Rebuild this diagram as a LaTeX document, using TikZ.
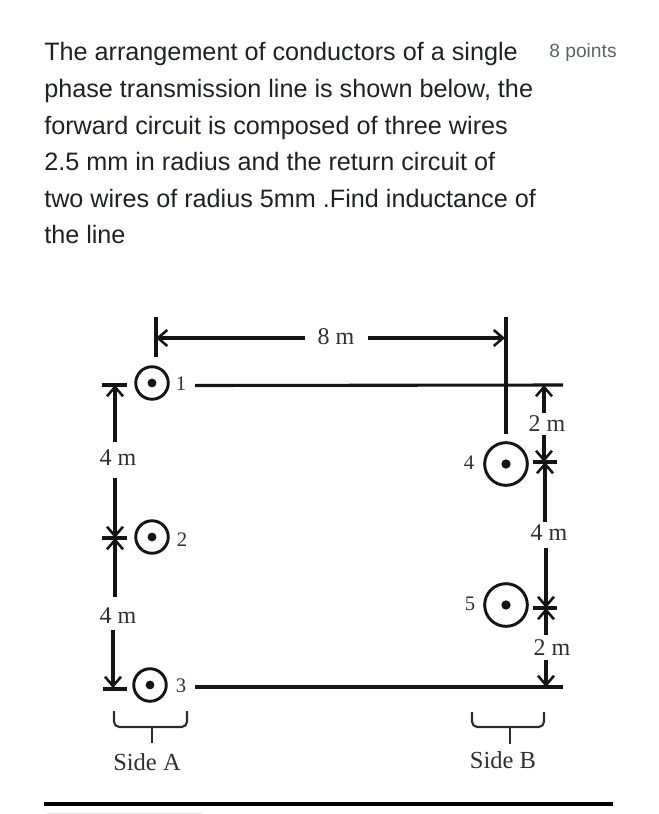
\documentclass[tikz,border=0pt]{standalone}
\usepackage{fontspec}
\setmainfont{Liberation Serif}
\newfontfamily\uifont{Liberation Sans}
\usetikzlibrary{arrows.meta}
\definecolor{inkc}{HTML}{141414}
\definecolor{txtc}{HTML}{303030}
\definecolor{headc}{HTML}{202124}
\definecolor{ptsc}{HTML}{5F6368}
\tikzset{
  wire/.style={draw=inkc,line width=2.32pt},
  dimline/.style={draw=inkc,line width=2.32pt,-{Straight Barb[length=7pt,width=12pt,line width=1.9pt]}},
  plainline/.style={draw=inkc,line width=2.32pt},
  brc/.style={draw=inkc!90,line width=1.6pt,rounded corners=4pt},
  cond/.style={circle,draw=inkc,line width=2.2pt,inner sep=0pt,fill=white},
  dotc/.style={circle,fill=inkc,inner sep=0pt,minimum size=6.6pt},
  lab/.style={text=txtc,font=\fontsize{18}{20}\selectfont,inner sep=0pt},
  numlab/.style={text=txtc,font=\fontsize{15.5}{17}\selectfont,inner sep=0pt},
  sidelab/.style={text=txtc,font=\fontsize{18.4}{20}\selectfont,inner sep=0pt},
  head/.style={text=headc,font=\uifont\fontsize{18.9}{21}\selectfont,anchor=base west,inner sep=0pt},
}
\begin{document}
\begin{tikzpicture}[x=0.75pt,y=-0.75pt]
\useasboundingbox (0,0) rectangle (659,814);
\node[head] (t1) at (44,60) {The arrangement of conductors of a single};
\node[head] (t2) at (44,97) {phase transmission line is shown below, the};
\node[head] (t3) at (44,134) {forward circuit is composed of three wires};
\node[head] (t4) at (44,170) {2.5 mm in radius and the return circuit of};
\node[head] (t5) at (44,207) {two wires of radius 5mm .Find inductance of};
\node[head] (t6) at (44,243) {the line};
\node[text=ptsc,font=\uifont\fontsize{14.4}{16}\selectfont,inner sep=0pt] (pts) at (583,53) {8 points};
% horizontal wires
\coordinate (w1e) at (563,385);
\coordinate (w3e) at (563,687);
\coordinate (w1s) at (195,385.5);
\coordinate (w3s) at (195,687);
\draw[wire] (w1s) -- (w1e);
\draw[wire] (w3s) -- (w3e);
% conductors
\node[cond,minimum size=24.4pt] (c1) at (152,383) {};
\node[dotc] (d1) at (c1) {};
\node[cond,minimum size=24.4pt] (c2) at (152,537) {};
\node[dotc] (d2) at (c2) {};
\node[cond,minimum size=24.4pt] (c3) at (150,685) {};
\node[dotc] (d3) at (c3) {};
\node[cond,minimum size=32pt] (c4) at (506,464) {};
\node[dotc,minimum size=7pt] (d4) at (c4) {};
\node[cond,minimum size=32pt] (c5) at (506,605) {};
\node[dotc,minimum size=7pt] (d5) at (c5) {};
\node[numlab] (n1) at (181,384) {1};
\node[numlab] (n2) at (182,540) {2};
\node[numlab] (n3) at (181,686) {3};
\node[numlab] (n4) at (469,463) {4};
\node[numlab] (n5) at (470,604) {5};
% labels
\node[lab] (m8) at (336,337) {8 m};
\node[lab] (la) at (118,458) {4 m};
\node[lab] (lb) at (118,616) {4 m};
\node[lab] (ra) at (547,424) {2 m};
\node[lab] (rb) at (549,533) {4 m};
\node[lab] (rc) at (552,648) {2 m};
\node[sidelab] (sa) at (147,762) {Side A};
\node[sidelab] (sb) at (503,760) {Side B};
% 8 m dimension
\coordinate (vlt) at (156,317);
\coordinate (vlb) at (156,357);
\coordinate (vrt) at (506,317);
\coordinate (vrb) at (506,434);
\coordinate (al) at (156,338);
\coordinate (alf) at (305,338);
\coordinate (ar) at (505,338);
\coordinate (arf) at (368,338);
\draw[plainline] (vlt) -- (vlb);
\draw[plainline] (vrt) -- (vrb);
\draw[dimline] (alf) -- (al);
\draw[dimline] (arf) -- (ar);
% left dimensions
\coordinate (tl1a) at (102,385); \coordinate (tl1b) at (127,385);
\coordinate (tl2a) at (102,538); \coordinate (tl2b) at (127,538);
\coordinate (tl3a) at (103,689); \coordinate (tl3b) at (127,689);
\draw[plainline] (tl1a) -- (tl1b);
\draw[plainline] (tl2a) -- (tl2b);
\draw[plainline] (tl3a) -- (tl3b);
\coordinate (p1) at (115,385); \coordinate (p1f) at (115,442);
\coordinate (p2) at (115,538); \coordinate (p2f) at (115,478);
\coordinate (p2g) at (115,597);
\coordinate (p3) at (113,688); \coordinate (p3f) at (113,630);
\draw[dimline] (p1f) -- (p1);
\draw[dimline] (p2f) -- (p2);
\draw[dimline] (p2g) -- (p2);
\draw[dimline] (p3f) -- (p3);
% right dimensions
\coordinate (tr1a) at (533,462); \coordinate (tr1b) at (557,462);
\coordinate (tr2a) at (533,608); \coordinate (tr2b) at (557,608);
\draw[plainline] (tr1a) -- (tr1b);
\draw[plainline] (tr2a) -- (tr2b);
\coordinate (q1) at (544,385); \coordinate (q1f) at (544,413);
\coordinate (q2) at (544,462); \coordinate (q2f) at (544,435);
\coordinate (q3) at (545,462); \coordinate (q3f) at (545,522);
\coordinate (q4) at (546,608); \coordinate (q4f) at (546,548);
\coordinate (q5) at (546,608); \coordinate (q5f) at (546,635);
\coordinate (q6) at (546,687); \coordinate (q6f) at (546,660);
\draw[dimline] (q1f) -- (q1);
\draw[dimline] (q2f) -- (q2);
\draw[dimline] (q3f) -- (q3);
\draw[dimline] (q4f) -- (q4);
\draw[dimline] (q5f) -- (q5);
\draw[dimline] (q6f) -- (q6);
% braces
\coordinate (ba1) at (114,711); \coordinate (ba2) at (114,727); \coordinate (ba3) at (187,727); \coordinate (ba4) at (187,711);
\coordinate (bam) at (152,727); \coordinate (bas) at (152,743);
\draw[brc] (ba1) -- (ba2) -- (ba3) -- (ba4);
\draw[brc,line width=2pt] (bam) -- (bas);
\coordinate (bb1) at (472,712); \coordinate (bb2) at (472,727); \coordinate (bb3) at (544,727); \coordinate (bb4) at (544,712);
\coordinate (bbm) at (510,727); \coordinate (bbs) at (510,744);
\draw[brc] (bb1) -- (bb2) -- (bb3) -- (bb4);
\draw[brc,line width=2pt] (bbm) -- (bbs);
% bottom rule
\coordinate (r1) at (44,804); \coordinate (r2) at (613,804);
\draw[draw=black,line width=2.32pt] (r1) -- (r2);
\coordinate (g1) at (47,813.5); \coordinate (g2) at (202,813.5);
\draw[draw=black!10,line width=0.9pt] (g1) -- (g2);
\end{tikzpicture}
\end{document}
